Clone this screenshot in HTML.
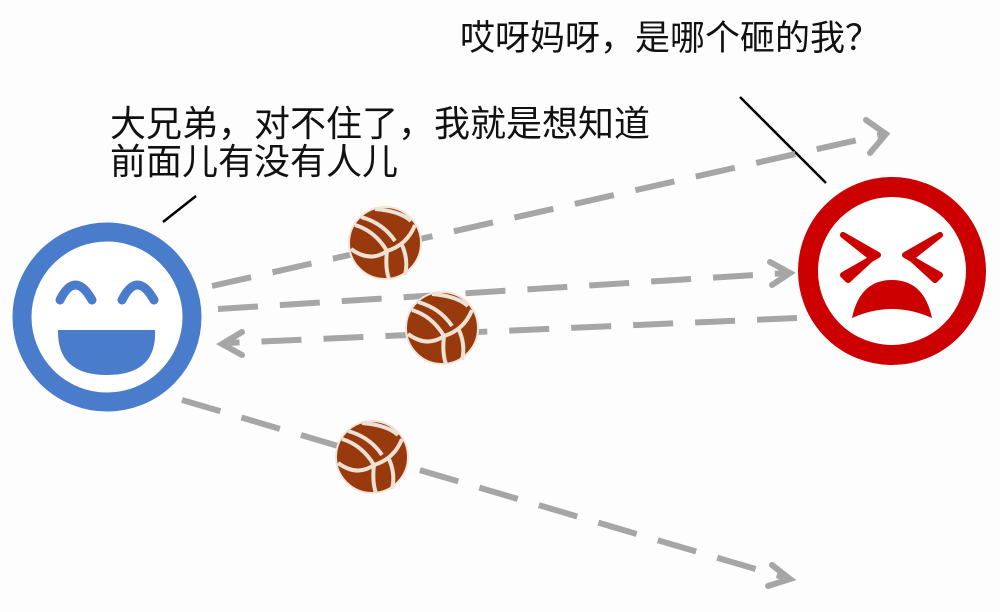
<!DOCTYPE html>
<html><head><meta charset="utf-8"><style>
html,body{margin:0;padding:0;background:#fdfdfd;}
svg{display:block}
text{font-family:"Liberation Sans","Noto Sans CJK SC",sans-serif;fill:#111;}
</style></head><body>
<svg width="1000" height="612" viewBox="0 0 1000 612" xmlns="http://www.w3.org/2000/svg">
<defs>
<g id="b">
<circle cx="0" cy="0" r="36" fill="#993a0e" stroke="#f0e6dc" stroke-width="2"/>
<g stroke="#ece2d4" stroke-width="4" fill="none">
<path d="M-30,-18 Q-10,-12 2,8"/>
<path d="M-24,-26 Q-2,-20 10,-2"/>
<path d="M2,8 Q22,2 30,-18"/>
<path d="M2,8 Q0,25 4,36"/>
<path d="M16,0 Q24,16 20,32"/>
<path d="M-34,6 Q-15,20 2,8"/>
<path d="M-10,-34 Q15,-32 26,-22"/>
</g>
</g>
</defs>
<rect width="1000" height="612" fill="#fdfdfd"/>
<text x="460" y="50" font-size="35">哎呀妈呀，是哪个砸的我？</text>
<text x="110" y="136" font-size="36">大兄弟，对不住了，我就是想知道</text>
<text x="110" y="174" font-size="36">前面儿有没有人儿</text>
<line x1="163" y1="222" x2="196" y2="196" stroke="#000" stroke-width="2.5"/>
<line x1="740" y1="97" x2="826" y2="183" stroke="#000" stroke-width="2.5"/>
<g stroke="#a6a6a6" stroke-width="6" fill="none" stroke-dasharray="40 22">
<line x1="212" y1="286" x2="884" y2="134"/>
<line x1="218" y1="309" x2="786" y2="273"/>
<line x1="797" y1="318" x2="226" y2="343"/>
<line x1="182" y1="400" x2="786" y2="578"/>
</g>
<g stroke="#a6a6a6" stroke-width="6" fill="none" stroke-linecap="round">
<polyline points="866,120 886,134 870,153"/>
<polyline points="770,262 790,273 772,285"/>
<polyline points="242,332 222,344 242,355"/>
<polyline points="772,565 790,579 768,586"/>
</g>
<circle cx="107" cy="317" r="85" fill="#fff" stroke="#4a7ccc" stroke-width="19"/>
<path d="M60,300 Q75,270 92,300" stroke="#4a7ccc" stroke-width="9" fill="none" stroke-linecap="round"/>
<path d="M122,300 Q137,270 154,300" stroke="#4a7ccc" stroke-width="9" fill="none" stroke-linecap="round"/>
<path d="M58,330 L155,330 Q157,375 107,375 Q57,375 58,330 Z" fill="#4a7ccc"/>
<circle cx="892" cy="271" r="84" fill="#fff" stroke="#cc0000" stroke-width="20"/>
<path d="M843,235 L878,255 L843,275 L848,280 L872,258 Z" fill="#cc0000" stroke="#cc0000" stroke-width="6" stroke-linejoin="round"/>
<path d="M940,235 L905,255 L940,275 L935,280 L911,258 Z" fill="#cc0000" stroke="#cc0000" stroke-width="6" stroke-linejoin="round"/>
<path d="M852,318 Q860,280 892,280 Q924,280 932,318 Q892,300 852,318 Z" fill="#cc0000"/>
<use href="#b" x="385" y="243"/>
<use href="#b" x="442" y="328"/>
<use href="#b" x="372" y="457"/>
</svg>
</body></html>
